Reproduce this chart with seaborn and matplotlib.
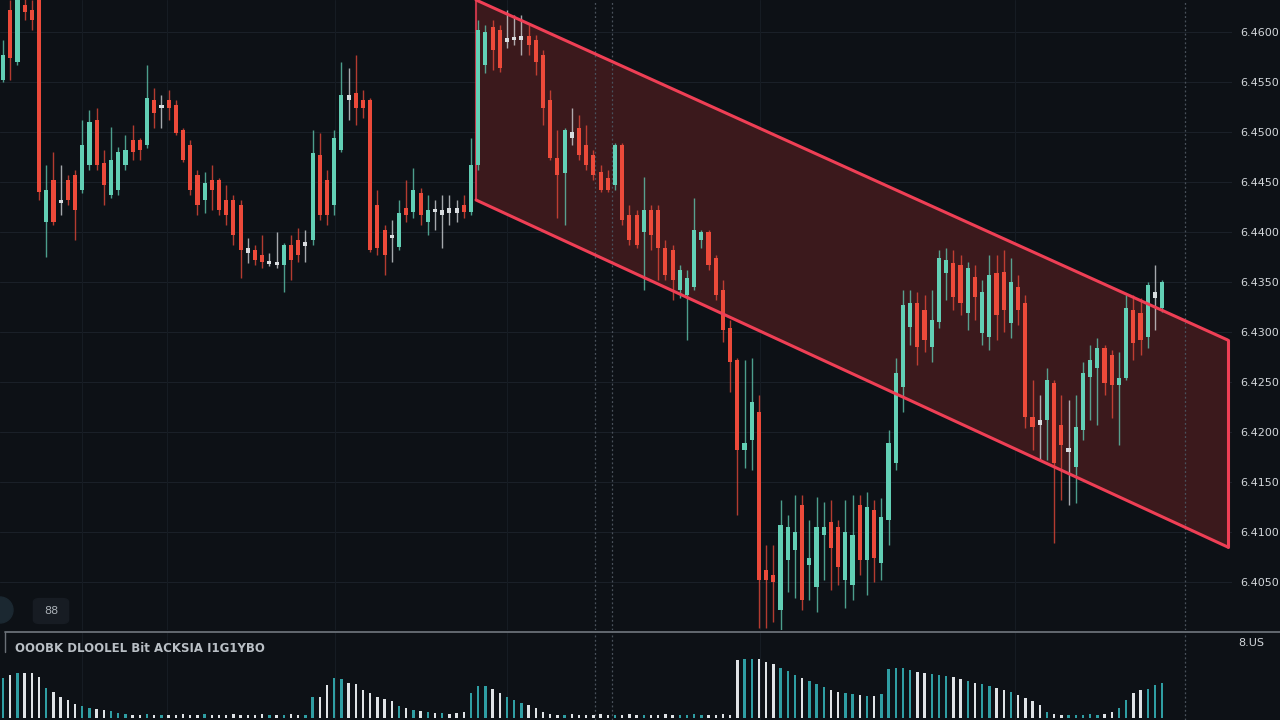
import numpy as np
import pandas as pd
import matplotlib
matplotlib.use("Agg")
import matplotlib.pyplot as plt
from matplotlib.patches import FancyBboxPatch, Ellipse
from matplotlib.lines import Line2D
import seaborn as sns

# ---------------- data ----------------
open_ = [6.4552, 6.4622, 6.4570, 6.4627, 6.4622, 6.4632, 6.4410, 6.4452, 6.4432, 6.4452,
         6.4457, 6.4442, 6.4467, 6.4512, 6.4469, 6.4437, 6.4442, 6.4467, 6.4492, 6.4492,
         6.4487, 6.4532, 6.4524, 6.4532, 6.4527, 6.4502, 6.4487, 6.4457, 6.4432, 6.4452,
         6.4452, 6.4432, 6.4432, 6.4427, 6.4384, 6.4382, 6.4377, 6.4368, 6.4370, 6.4367,
         6.4387, 6.4392, 6.4386, 6.4392, 6.4477, 6.4452, 6.4427, 6.4482, 6.4537, 6.4539,
         6.4532, 6.4532, 6.4427, 6.4402, 6.4397, 6.4385, 6.4424, 6.4420, 6.4439, 6.4410,
         6.4420, 6.4417, 6.4424, 6.4424, 6.4427, 6.4420, 6.4467, 6.4567, 6.4605, 6.4602,
         6.4590, 6.4592, 6.4592, 6.4596, 6.4592, 6.4577, 6.4532, 6.4474, 6.4459, 6.4500,
         6.4504, 6.4487, 6.4477, 6.4460, 6.4454, 6.4447, 6.4487, 6.4417, 6.4417, 6.4400,
         6.4422, 6.4422, 6.4384, 6.4382, 6.4342, 6.4337, 6.4345, 6.4392, 6.4400, 6.4374,
         6.4342, 6.4304, 6.4272, 6.4182, 6.4192, 6.4220, 6.4062, 6.4057, 6.4022, 6.4072,
         6.4082, 6.4127, 6.4067, 6.4045, 6.4097, 6.4110, 6.4105, 6.4052, 6.4047, 6.4127,
         6.4072, 6.4122, 6.4069, 6.4112, 6.4169, 6.4245, 6.4305, 6.4329, 6.4322, 6.4285,
         6.4310, 6.4359, 6.4369, 6.4367, 6.4319, 6.4355, 6.4299, 6.4295, 6.4359, 6.4360,
         6.4309, 6.4345, 6.4329, 6.4215, 6.4212, 6.4212, 6.4249, 6.4207, 6.4180, 6.4165,
         6.4202, 6.4255, 6.4264, 6.4284, 6.4277, 6.4247, 6.4254, 6.4322, 6.4319, 6.4295,
         6.4334, 6.4324]

close = [6.4577, 6.4574, 6.4632, 6.4620, 6.4612, 6.4440, 6.4442, 6.4410, 6.4429, 6.4432,
         6.4422, 6.4487, 6.4510, 6.4467, 6.4447, 6.4472, 6.4480, 6.4482, 6.4480, 6.4482,
         6.4534, 6.4519, 6.4527, 6.4524, 6.4499, 6.4472, 6.4442, 6.4427, 6.4449, 6.4442,
         6.4422, 6.4417, 6.4397, 6.4382, 6.4379, 6.4372, 6.4370, 6.4370, 6.4367, 6.4387,
         6.4372, 6.4377, 6.4390, 6.4479, 6.4417, 6.4417, 6.4494, 6.4537, 6.4532, 6.4524,
         6.4524, 6.4382, 6.4384, 6.4377, 6.4394, 6.4419, 6.4417, 6.4442, 6.4417, 6.4422,
         6.4418, 6.4422, 6.4419, 6.4419, 6.4420, 6.4467, 6.4602, 6.4600, 6.4582, 6.4564,
         6.4594, 6.4594, 6.4596, 6.4587, 6.4570, 6.4524, 6.4474, 6.4457, 6.4502, 6.4494,
         6.4477, 6.4467, 6.4457, 6.4442, 6.4442, 6.4487, 6.4412, 6.4392, 6.4387, 6.4422,
         6.4397, 6.4384, 6.4357, 6.4352, 6.4362, 6.4354, 6.4402, 6.4400, 6.4367, 6.4337,
         6.4302, 6.4270, 6.4182, 6.4189, 6.4230, 6.4052, 6.4052, 6.4050, 6.4107, 6.4105,
         6.4100, 6.4032, 6.4074, 6.4105, 6.4105, 6.4084, 6.4065, 6.4100, 6.4097, 6.4072,
         6.4125, 6.4074, 6.4115, 6.4189, 6.4259, 6.4327, 6.4329, 6.4285, 6.4292, 6.4312,
         6.4374, 6.4372, 6.4335, 6.4329, 6.4364, 6.4335, 6.4340, 6.4357, 6.4317, 6.4322,
         6.4350, 6.4322, 6.4215, 6.4205, 6.4207, 6.4252, 6.4169, 6.4187, 6.4184, 6.4205,
         6.4259, 6.4272, 6.4284, 6.4249, 6.4247, 6.4254, 6.4324, 6.4289, 6.4292, 6.4347,
         6.4340, 6.4350]

high = [6.4592, 6.4632, 6.4642, 6.4637, 6.4632, 6.4642, 6.4467, 6.4480, 6.4467, 6.4457,
        6.4462, 6.4512, 6.4522, 6.4524, 6.4482, 6.4505, 6.4485, 6.4497, 6.4507, 6.4494,
        6.4567, 6.4544, 6.4537, 6.4542, 6.4532, 6.4504, 6.4492, 6.4462, 6.4460, 6.4467,
        6.4454, 6.4447, 6.4437, 6.4432, 6.4394, 6.4387, 6.4397, 6.4379, 6.4400, 6.4389,
        6.4397, 6.4404, 6.4402, 6.4502, 6.4499, 6.4462, 6.4502, 6.4570, 6.4564, 6.4577,
        6.4542, 6.4534, 6.4442, 6.4407, 6.4412, 6.4432, 6.4452, 6.4464, 6.4444, 6.4437,
        6.4432, 6.4437, 6.4437, 6.4432, 6.4437, 6.4494, 6.4612, 6.4607, 6.4612, 6.4607,
        6.4622, 6.4617, 6.4617, 6.4607, 6.4597, 6.4582, 6.4542, 6.4502, 6.4504, 6.4524,
        6.4517, 6.4507, 6.4482, 6.4467, 6.4462, 6.4489, 6.4489, 6.4427, 6.4422, 6.4455,
        6.4427, 6.4427, 6.4392, 6.4387, 6.4367, 6.4362, 6.4434, 6.4402, 6.4402, 6.4377,
        6.4352, 6.4312, 6.4274, 6.4272, 6.4274, 6.4237, 6.4087, 6.4087, 6.4132, 6.4117,
        6.4137, 6.4137, 6.4112, 6.4135, 6.4130, 6.4132, 6.4112, 6.4132, 6.4137, 6.4137,
        6.4140, 6.4132, 6.4134, 6.4202, 6.4274, 6.4342, 6.4342, 6.4340, 6.4337, 6.4342,
        6.4382, 6.4384, 6.4382, 6.4377, 6.4370, 6.4367, 6.4352, 6.4377, 6.4377, 6.4382,
        6.4374, 6.4357, 6.4337, 6.4252, 6.4237, 6.4264, 6.4252, 6.4237, 6.4232, 6.4237,
        6.4270, 6.4287, 6.4294, 6.4287, 6.4282, 6.4280, 6.4337, 6.4337, 6.4334, 6.4350,
        6.4367, 6.4352]

low = [6.4550, 6.4552, 6.4567, 6.4612, 6.4602, 6.4432, 6.4375, 6.4407, 6.4417, 6.4427,
       6.4392, 6.4439, 6.4462, 6.4462, 6.4427, 6.4434, 6.4437, 6.4462, 6.4472, 6.4472,
       6.4484, 6.4504, 6.4504, 6.4512, 6.4497, 6.4470, 6.4437, 6.4417, 6.4419, 6.4422,
       6.4417, 6.4407, 6.4387, 6.4354, 6.4369, 6.4367, 6.4364, 6.4366, 6.4364, 6.4340,
       6.4352, 6.4370, 6.4370, 6.4387, 6.4412, 6.4407, 6.4417, 6.4480, 6.4512, 6.4507,
       6.4514, 6.4380, 6.4377, 6.4357, 6.4370, 6.4382, 6.4410, 6.4414, 6.4407, 6.4397,
       6.4402, 6.4384, 6.4407, 6.4410, 6.4414, 6.4417, 6.4462, 6.4559, 6.4562, 6.4560,
       6.4584, 6.4587, 6.4577, 6.4577, 6.4557, 6.4507, 6.4472, 6.4414, 6.4407, 6.4487,
       6.4472, 6.4462, 6.4452, 6.4440, 6.4440, 6.4442, 6.4407, 6.4387, 6.4384, 6.4342,
       6.4382, 6.4352, 6.4352, 6.4332, 6.4334, 6.4292, 6.4342, 6.4384, 6.4362, 6.4332,
       6.4290, 6.4240, 6.4117, 6.4164, 6.4162, 6.4004, 6.4004, 6.4010, 6.4002, 6.4040,
       6.4034, 6.4022, 6.4032, 6.4020, 6.4052, 6.4042, 6.4047, 6.4024, 6.4032, 6.4057,
       6.4037, 6.4050, 6.4052, 6.4087, 6.4162, 6.4220, 6.4287, 6.4267, 6.4280, 6.4270,
       6.4304, 6.4332, 6.4322, 6.4317, 6.4302, 6.4312, 6.4287, 6.4282, 6.4292, 6.4300,
       6.4294, 6.4307, 6.4204, 6.4182, 6.4172, 6.4172, 6.4089, 6.4132, 6.4127, 6.4129,
       6.4192, 6.4212, 6.4207, 6.4237, 6.4214, 6.4187, 6.4252, 6.4272, 6.4277, 6.4284,
       6.4302, 6.4320]

volume = [40, 43, 45, 45, 45, 41,
          30, 26, 21, 18, 14, 12, 10, 9, 8, 7,
          5, 4, 3, 3, 4, 3, 3, 3, 3, 4, 3, 3, 4, 3, 3, 3, 4, 3, 3, 3, 4, 3, 3, 3, 4, 3, 3,
          21, 21, 33, 40, 39, 35, 34, 28, 25, 21, 19, 17,
          12, 10, 8, 7, 6, 5, 5, 4, 5, 6,
          25, 32, 32, 29, 25, 21, 18, 15, 13, 10, 6, 4,
          3, 3, 4, 3, 3, 3, 4, 3, 3, 3, 4, 3, 3, 3, 3, 4, 3, 3, 3, 4, 3, 3, 3, 4, 3,
          58, 59, 59, 59, 56, 54, 50, 47, 43, 40, 37, 34, 31, 28, 26, 25, 24, 23, 22, 22, 24,
          49, 50, 50, 48, 46, 45, 44, 43, 42, 41, 39, 37, 35, 34, 32, 30, 28, 26, 23, 20, 17, 13,
          6, 4, 3, 3, 3, 3, 4, 3, 4, 6, 10,
          18, 25, 28, 29, 33, 35]

price_ticks = [6.4600, 6.4550, 6.4500, 6.4450, 6.4400, 6.4350,
               6.4300, 6.4250, 6.4200, 6.4150, 6.4100, 6.4050]

channel_x = [65.7, 170.1]
channel_top = [6.4632, 6.4292]
channel_bottom = [6.4432, 6.4085]

marker_x = [82.2, 84.6, 164.2]
grid_x = [11.0, 22.8, 46.1, 70.0, 105.1, 140.6]

volume_label = "8.US"
panel_caption = "OOOBK DLOOLEL Bit ACKSIA I1G1YBO"
badge_text = "88"

# ---------------- style ----------------
BG = "#0d1116"
UP = "#62cfb5"
DOWN = "#ec4a3a"
FLAT = "#d8dcdf"
VOL_UP = "#2f9ea3"
VOL_DN = "#dfe3e6"
CH_EDGE = "#ef3f55"
CH_FILL = "#3b191c"
TXT = "#d3d7db"

sns.set_theme(style="dark", rc={"axes.facecolor": BG, "figure.facecolor": BG})
plt.rcParams["font.family"] = ["DejaVu Sans"]

df = pd.DataFrame({"open": open_, "high": high, "low": low,
                   "close": close, "volume": volume})
df["idx"] = np.arange(len(df))
body = df["close"] - df["open"]
df["kind"] = np.where(body.abs() < 0.0007, "flat", np.where(body > 0, "up", "down"))

fig = plt.figure(figsize=(12.8, 7.2), dpi=100, facecolor=BG)
ax = fig.add_axes([0, 90 / 720, 1232 / 1280, 630 / 720])
axv = fig.add_axes([0, 0, 1232 / 1280, 88 / 720])
xlim = (-0.42, 170.7)

# grid
for gy in price_ticks:
    ax.axhline(gy, color="#1a2028", lw=0.8, zorder=0)
for gx in grid_x:
    ax.axvline(gx, color="#161c23", lw=0.8, zorder=0)
    axv.axvline(gx, color="#161c23", lw=0.8, zorder=0)

# channel
ax.fill_between(channel_x, channel_bottom, channel_top, color=CH_FILL, zorder=1, lw=0)
ax.plot(channel_x, channel_top, color=CH_EDGE, lw=2.2, zorder=5)
ax.plot(channel_x, channel_bottom, color=CH_EDGE, lw=2.2, zorder=5)
ax.plot([channel_x[1], channel_x[1]], [channel_bottom[1], channel_top[1]], color=CH_EDGE, lw=2.2, zorder=5)
ax.plot([channel_x[0], channel_x[0]], [channel_bottom[0], channel_top[0]], color=CH_EDGE, lw=1.5, alpha=0.8, zorder=2)

for mx in marker_x:
    ax.axvline(mx, color="#4a525c", lw=0.9, ls=(0, (1.5, 2)), zorder=1)
    axv.axvline(mx, color="#4a525c", lw=0.9, ls=(0, (1.5, 2)), zorder=1)

# candles
colors = {"up": UP, "down": DOWN, "flat": FLAT}
for k, c in colors.items():
    sub = df[df["kind"] == k]
    ax.vlines(sub["idx"], sub["low"], sub["high"], color=c, lw=1.0, alpha=0.75, zorder=3)
    h = (sub["close"] - sub["open"])
    h = np.where(h.abs() < 0.0003, 0.0003, h)
    ax.bar(sub["idx"], h, bottom=sub["open"], width=0.58, color=c, lw=0, zorder=4)

ax.set_xlim(*xlim)
ax.set_ylim(6.4002, 6.4632)
ax.yaxis.tick_right()
ax.set_yticks(price_ticks)
ax.set_yticklabels([f"{t:.4f}" for t in price_ticks])
ax.tick_params(axis="y", colors=TXT, labelsize=8, length=0, pad=6)
ax.set_xticks([])
ax.grid(False)
for s in ax.spines.values():
    s.set_visible(False)

# volume
df["vdir"] = np.where(df["close"] >= df["open"], "up", "down")
sns.barplot(data=df, x="idx", y="volume", hue="vdir", palette={"up": VOL_UP, "down": VOL_DN},
            native_scale=True, width=0.32, dodge=False, legend=False, ax=axv, zorder=3,
            linewidth=0, saturation=1)
axv.set_xlim(*xlim)
axv.set_ylim(-2, 86)
axv.set_xticks([])
axv.set_yticks([])
axv.set_xlabel("")
axv.set_ylabel("")
axv.grid(False)
for s in axv.spines.values():
    s.set_visible(False)

# separator and panel texts
fig.add_artist(Line2D([5 / 1280, 1.0], [1 - 632 / 720, 1 - 632 / 720], color="#6a7077", lw=1.3, zorder=6))
fig.add_artist(Line2D([5 / 1280, 5 / 1280], [1 - 632 / 720, 1 - 652 / 720], color="#6a7077", lw=1.0, zorder=6))
fig.text(15 / 1280, 1 - 648 / 720, panel_caption, color="#b9bfc5", fontsize=8.5,
         fontweight="bold", va="center", ha="left", zorder=7)
fig.text(1238 / 1280, 1 - 643 / 720, volume_label, color=TXT, fontsize=8, va="center", ha="left", zorder=7)

# badge and dim circle at left
fig.add_artist(Ellipse((0, 1 - 610 / 720), 26 / 1280, 26 / 720, transform=fig.transFigure,
                       color="#1b2831", zorder=6))
fig.add_artist(FancyBboxPatch((36 / 1280, 1 - 622 / 720), 30 / 1280, 22 / 720,
                              boxstyle="round,pad=0.002,rounding_size=0.005",
                              transform=fig.transFigure, color="#171c23", zorder=6))
fig.text(51 / 1280, 1 - 611 / 720, badge_text, color="#aab0b6", fontsize=8, va="center",
         ha="center", zorder=7)

fig.savefig("out.png", dpi=100, facecolor=BG)
